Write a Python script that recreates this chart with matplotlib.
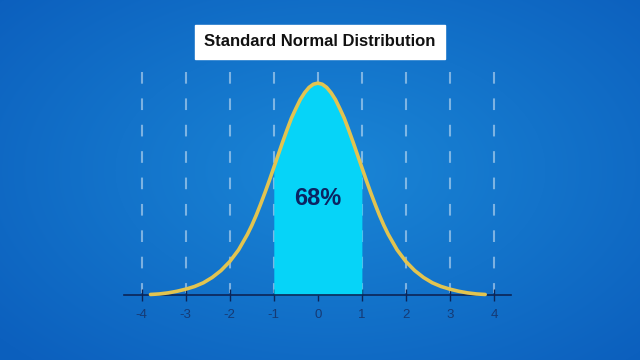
import numpy as np
import matplotlib.pyplot as plt

plt.rcParams['font.family'] = ['Liberation Sans', 'DejaVu Sans']
plt.rcParams['axes.unicode_minus'] = False
plt.rcParams['lines.scale_dashes'] = False

# values (finer steps near the peak)
z = [-3.8, -3.6, -3.4, -3.2, -3.0, -2.8, -2.6, -2.4, -2.2, -2.0, -1.8,
     -1.6, -1.5, -1.4, -1.3, -1.2, -1.1, -1.0, -0.9, -0.8, -0.7, -0.6, -0.5, -0.4, -0.3, -0.2, -0.1,
     0.0, 0.1, 0.2, 0.3, 0.4, 0.5, 0.6, 0.7, 0.8, 0.9, 1.0, 1.1, 1.2, 1.3, 1.4, 1.5, 1.6,
     1.8, 2.0, 2.2, 2.4, 2.6, 2.8, 3.0, 3.2, 3.4, 3.6, 3.8]
density = [0.001, 0.002, 0.004, 0.007, 0.011, 0.016, 0.023, 0.033, 0.046, 0.063, 0.085,
           0.114, 0.131, 0.150, 0.171, 0.193, 0.216, 0.240, 0.264, 0.288, 0.311, 0.333, 0.351,
           0.368, 0.381, 0.391, 0.397,
           0.399, 0.397, 0.391, 0.381, 0.368, 0.351, 0.333, 0.311, 0.288, 0.264, 0.240, 0.216,
           0.193, 0.171, 0.150, 0.131, 0.114,
           0.085, 0.063, 0.046, 0.033, 0.023, 0.016, 0.011, 0.007, 0.004, 0.002, 0.001]
ticks = [-4, -3, -2, -1, 0, 1, 2, 3, 4]
tick_labels = ['-4', '-3', '-2', '-1', '0', '1', '2', '3', '4']
shade_lo, shade_hi = -1, 1
shade_label = '68%'
title = 'Standard Normal Distribution'

z = np.array(z)
density = np.array(density)

fig = plt.figure(figsize=(6.4, 3.6), dpi=100)
ax = fig.add_axes([0, 0, 1, 1])
xlim = (-7.217, 7.315)
ylim = (-0.1224, 0.5556)
ax.set_xlim(xlim)
ax.set_ylim(ylim)

# radial blue background
yy, xx = np.mgrid[0:360, 0:640]
r = np.sqrt(((xx - 330) / 430.0) ** 2 + ((yy - 170) / 260.0) ** 2)
t = np.clip(r, 0, 1)[..., None]
center = np.array([26, 134, 214]) / 255
edge = np.array([12, 96, 190]) / 255
bg = center * (1 - t) + edge * t
ax.imshow(bg, extent=(xlim[0], xlim[1], ylim[0], ylim[1]), aspect='auto', zorder=0, origin='upper')

# dashed guide lines
for x in ticks:
    ax.plot([x, x], [0.4205, 0.003], color='white', alpha=0.45, lw=1.5,
            linestyle=(0, (8.4, 10.6)), zorder=1)

mask = (z >= shade_lo) & (z <= shade_hi)
ax.fill_between(z, 0, density, where=mask, color='#06d4f8', lw=0, zorder=2)
ax.plot(z, density, color='#e2c450', lw=2.6, solid_capstyle='round', zorder=4)

ax.text(0, 0.181, shade_label, ha='center', va='center', fontsize=17, fontweight='bold',
        color='#0b2462', zorder=5)

# axis
for s in ['top', 'left', 'right']:
    ax.spines[s].set_visible(False)
ax.spines['bottom'].set_position(('data', 0))
ax.spines['bottom'].set_bounds(-4.4, 4.38)
ax.spines['bottom'].set_color('#0c2456')
ax.spines['bottom'].set_linewidth(1.2)
ax.spines['bottom'].set_zorder(3)
ax.set_xticks(ticks)
ax.set_xticklabels(tick_labels)
ax.set_yticks([])
ax.tick_params(axis='x', direction='inout', length=8, width=1, color='#0c2456',
               labelcolor='#163a74', labelsize=9.5, pad=6)

# title box
fig.patches.append(plt.Rectangle((195 / 640, 1 - 59 / 360), 250 / 640, 34 / 360,
                                 transform=fig.transFigure, color='white', zorder=5))
fig.text(0.5, 1 - 42 / 360, title, ha='center', va='center', fontsize=12,
         fontweight='bold', color='#111111', zorder=6)

fig.savefig('out.png', dpi=100)
